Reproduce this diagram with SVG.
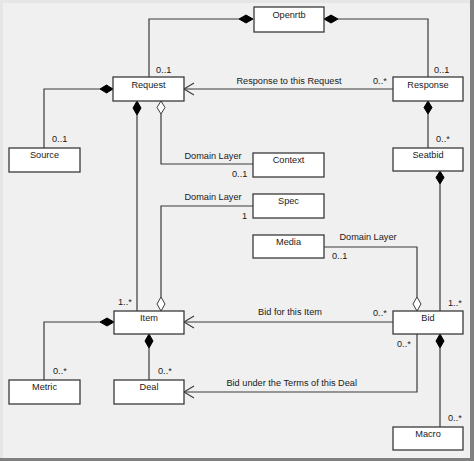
<svg xmlns="http://www.w3.org/2000/svg" width="474" height="461" viewBox="0 0 474 461">
<style>
.box{fill:#ffffff;stroke:#3a3a3a;stroke-width:1.3}
.name{font-family:"Liberation Sans",Arial,sans-serif;font-size:9.2px;fill:#1a1a1a;text-anchor:middle}
.lbl{font-family:"Liberation Sans",Arial,sans-serif;font-size:9.2px;fill:#1a1a1a}
.ln{fill:none;stroke:#3a3a3a;stroke-width:1.2}
.fd{fill:#000000;stroke:#000000;stroke-width:1}
.od{fill:#ffffff;stroke:#3a3a3a;stroke-width:1}
.ar{fill:none;stroke:#3a3a3a;stroke-width:1.1}
</style>
<rect x="0" y="0" width="474" height="461" fill="#e6e6e6"/>
<rect x="3" y="3" width="467" height="455" fill="#f0f0f0"/>
<rect x="470" y="0" width="4" height="461" fill="#808080"/>
<rect x="0" y="458" width="474" height="3" fill="#808080"/>

<g id="connectors">
  <!-- Openrtb - Request -->
  <polyline class="ln" points="239,19 149,19 149,77"/>
  <polygon class="fd" points="253,19 246,15 239,19 246,23"/>
  <!-- Openrtb - Response -->
  <polyline class="ln" points="338,19 428,19 428,77"/>
  <polygon class="fd" points="324,19 331,15 338,19 331,23"/>
  <!-- Response -> Request -->
  <line class="ln" x1="184" y1="89" x2="393" y2="89"/>
  <polyline class="ar" points="194,83 184,89 194,95"/>
  <!-- Request - Source -->
  <polyline class="ln" points="100,89 44,89 44,148"/>
  <polygon class="fd" points="113,89 106.5,85 100,89 106.5,93"/>
  <!-- Request - Item -->
  <line class="ln" x1="137" y1="115" x2="137" y2="311"/>
  <polygon class="fd" points="137,101 133,108 137,115 141,108"/>
  <!-- Request - Context -->
  <polyline class="ln" points="161,114 161,164 253,164"/>
  <polygon class="od" points="161,101 157,107.5 161,114 165,107.5"/>
  <!-- Item - Spec -->
  <polyline class="ln" points="161,297 161,206 253,206"/>
  <polygon class="od" points="161,311 157,304 161,297 165,304"/>
  <!-- Response - Seatbid -->
  <line class="ln" x1="428" y1="114" x2="428" y2="148"/>
  <polygon class="fd" points="428,101 424,107.5 428,114 432,107.5"/>
  <!-- Seatbid - Bid -->
  <line class="ln" x1="440" y1="184" x2="440" y2="311"/>
  <polygon class="fd" points="440,171 436,177.5 440,184 444,177.5"/>
  <!-- Media - Bid -->
  <polyline class="ln" points="324,247 417,247 417,297"/>
  <polygon class="od" points="417,311 413,304 417,297 421,304"/>
  <!-- Bid -> Item -->
  <line class="ln" x1="184" y1="322" x2="393" y2="322"/>
  <polyline class="ar" points="194,316 184,322 194,328"/>
  <!-- Bid -> Deal -->
  <polyline class="ln" points="417,334 417,392 184,392"/>
  <polyline class="ar" points="194,386 184,392 194,398"/>
  <!-- Bid - Macro -->
  <line class="ln" x1="440" y1="348" x2="440" y2="427"/>
  <polygon class="fd" points="440,334 436,341 440,348 444,341"/>
  <!-- Item - Metric -->
  <polyline class="ln" points="100,322 44,322 44,380"/>
  <polygon class="fd" points="114,322 107,318 100,322 107,326"/>
  <!-- Item - Deal -->
  <line class="ln" x1="149" y1="348" x2="149" y2="380"/>
  <polygon class="fd" points="149,334 145,341 149,348 153,341"/>

  <!-- labels -->
  <text class="lbl" x="156" y="73">0..1</text>
  <text class="lbl" x="434" y="73">0..1</text>
  <text class="lbl" x="289" y="84" text-anchor="middle">Response to this Request</text>
  <text class="lbl" x="373" y="84">0..*</text>
  <text class="lbl" x="52" y="142">0..1</text>
  <text class="lbl" x="213" y="159" text-anchor="middle">Domain Layer</text>
  <text class="lbl" x="232" y="177">0..1</text>
  <text class="lbl" x="213" y="200" text-anchor="middle">Domain Layer</text>
  <text class="lbl" x="242" y="219">1</text>
  <text class="lbl" x="368" y="240" text-anchor="middle">Domain Layer</text>
  <text class="lbl" x="332" y="259">0..1</text>
  <text class="lbl" x="436" y="142">0..*</text>
  <text class="lbl" x="118" y="305">1..*</text>
  <text class="lbl" x="448" y="306">1..*</text>
  <text class="lbl" x="290" y="315" text-anchor="middle">Bid for this Item</text>
  <text class="lbl" x="373" y="316">0..*</text>
  <text class="lbl" x="397" y="347">0..*</text>
  <text class="lbl" x="357" y="386" text-anchor="end">Bid under the Terms of this Deal</text>
  <text class="lbl" x="53" y="374">0..*</text>
  <text class="lbl" x="158" y="374">0..*</text>
  <text class="lbl" x="448" y="421">0..*</text>
</g>

<g id="Openrtb"><rect class="box" x="254" y="7" width="70" height="25"/><text class="name" x="289" y="18">Openrtb</text></g>
<g id="Request"><rect class="box" x="113" y="77" width="71" height="24"/><text class="name" x="148.5" y="87.5">Request</text></g>
<g id="Response"><rect class="box" x="393" y="77" width="70" height="24"/><text class="name" x="428" y="87.5">Response</text></g>
<g id="Source"><rect class="box" x="9" y="148" width="71" height="24"/><text class="name" x="44.5" y="157.5">Source</text></g>
<g id="Context"><rect class="box" x="253" y="153" width="71" height="24"/><text class="name" x="288.5" y="162.5">Context</text></g>
<g id="Seatbid"><rect class="box" x="393" y="148" width="70" height="23"/><text class="name" x="428" y="157.5">Seatbid</text></g>
<g id="Spec"><rect class="box" x="253" y="194" width="71" height="24"/><text class="name" x="288.5" y="203.5">Spec</text></g>
<g id="Media"><rect class="box" x="253" y="235" width="71" height="23"/><text class="name" x="288.5" y="245">Media</text></g>
<g id="Item"><rect class="box" x="114" y="311" width="70" height="23"/><text class="name" x="149" y="320.5">Item</text></g>
<g id="Bid"><rect class="box" x="393" y="311" width="70" height="23"/><text class="name" x="428" y="320.5">Bid</text></g>
<g id="Metric"><rect class="box" x="9" y="380" width="71" height="24"/><text class="name" x="44.5" y="390">Metric</text></g>
<g id="Deal"><rect class="box" x="114" y="380" width="70" height="24"/><text class="name" x="149" y="390">Deal</text></g>
<g id="Macro"><rect class="box" x="393" y="427" width="70" height="23"/><text class="name" x="428" y="437">Macro</text></g>
</svg>
